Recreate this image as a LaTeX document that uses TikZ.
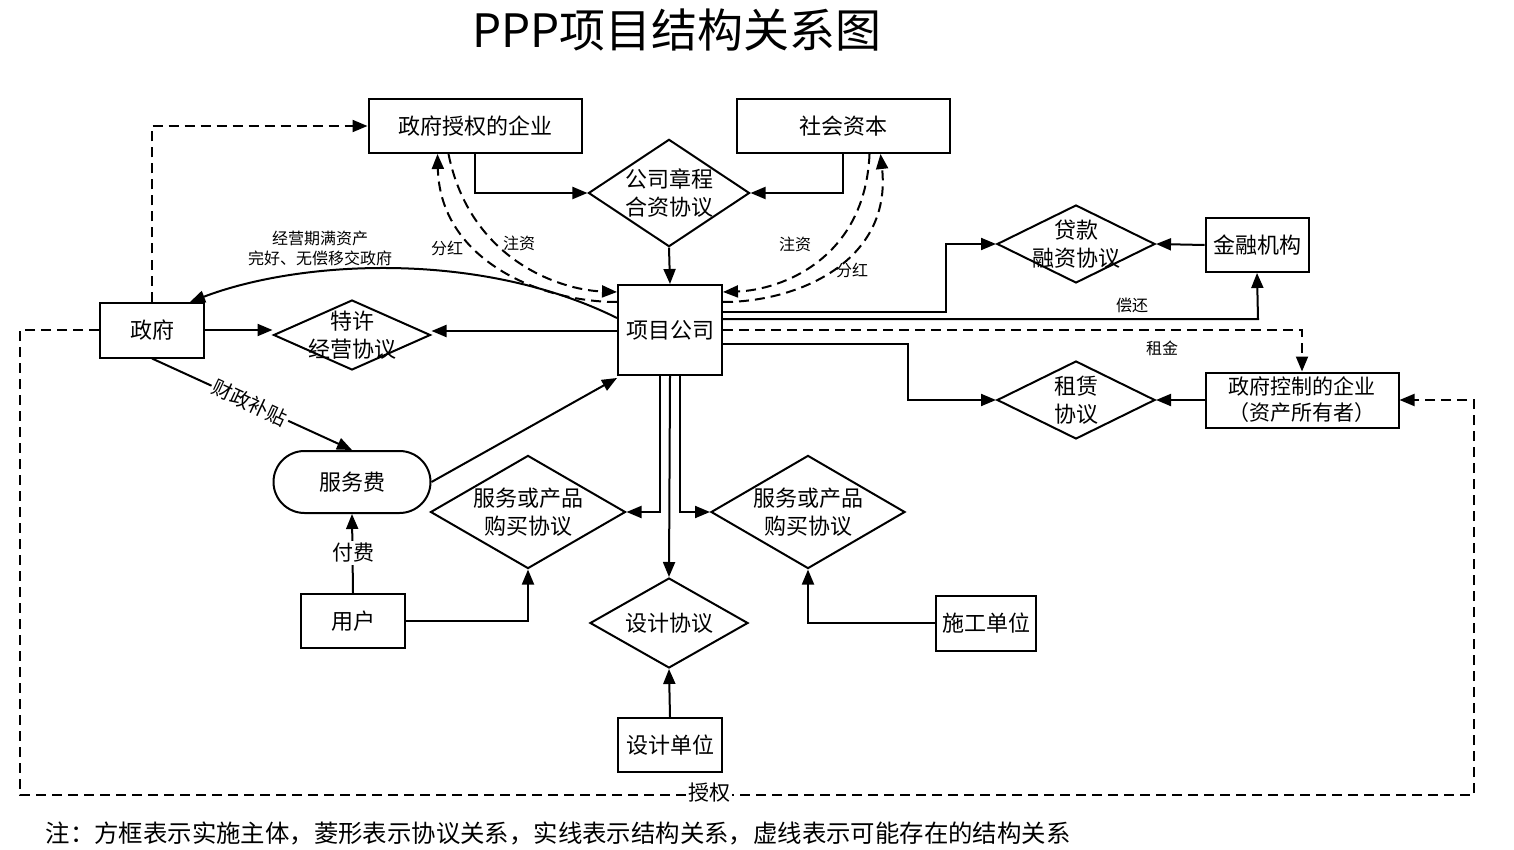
\documentclass[tikz,border=0pt]{standalone}
\usepackage{fontspec}
\setmainfont{Noto Sans CJK SC}
\usetikzlibrary{shapes.geometric,shapes.misc,arrows.meta}
\begin{document}
\begin{tikzpicture}[x=0.5pt,y=-0.5pt,
  every path/.style={line width=1pt},
  >={Triangle[length=7.5pt,width=6pt]},
  box/.style={draw,font=\fontsize{11}{13}\selectfont,inner sep=0pt,align=center},
  dia/.style={draw,diamond,inner sep=0pt,align=center,font=\fontsize{11}{14}\selectfont},
  lab/.style={font=\fontsize{8}{10}\selectfont,align=center,inner sep=1pt},
  dsh/.style={dashed,dash pattern=on 5pt off 3pt}]
\useasboundingbox (0,0) rectangle (1514,850);
\node[font=\fontsize{23}{25}\selectfont] (title) at (677,30) {PPP项目结构关系图};
\node[box,minimum width=106.5pt,minimum height=27pt] (gauth) at (475,126) {政府授权的企业};
\node[box,minimum width=106.5pt,minimum height=27pt] (soc) at (843,126) {社会资本};
\node[dia,minimum width=79pt,minimum height=53pt,aspect=1.5] (char) at (669,193) {公司章程\\合资协议};
\node[box,minimum width=52pt,minimum height=45pt] (proj) at (670,330) {项目公司};
\node[box,minimum width=52pt,minimum height=27.5pt] (gov) at (152,330) {政府};
\node[dia,minimum width=78.5pt,minimum height=35pt,aspect=2.2,inner sep=-5pt] (fran) at (352,335) {特许\\经营协议};
\node[dia,minimum width=79pt,minimum height=39pt,aspect=2,inner sep=-4pt] (loan) at (1076,244) {贷款\\融资协议};
\node[box,minimum width=51.5pt,minimum height=27pt] (fin) at (1257,245) {金融机构};
\node[dia,minimum width=79pt,minimum height=39pt,aspect=2] (lease) at (1076,400) {租赁\\协议};
\node[box,minimum width=96.5pt,minimum height=27.5pt,font=\fontsize{10.5}{13}\selectfont] (gctl) at (1302,400) {政府控制的企业\\（资产所有者）};
\node[draw,rounded rectangle,minimum width=78.5pt,minimum height=31pt,inner sep=0pt,font=\fontsize{11}{13}\selectfont] (fee) at (352,482) {服务费};
\node[dia,minimum width=97.5pt,minimum height=56pt,aspect=1.7] (buy1) at (528,512) {服务或产品\\购买协议};
\node[dia,minimum width=97pt,minimum height=56pt,aspect=1.7] (buy2) at (808,512) {服务或产品\\购买协议};
\node[dia,minimum width=79pt,minimum height=45pt,aspect=1.75] (des) at (669,623) {设计协议};
\node[box,minimum width=52pt,minimum height=27pt] (user) at (353,621) {用户};
\node[box,minimum width=50pt,minimum height=27.5pt] (con) at (986,623) {施工单位};
\node[box,minimum width=52pt,minimum height=27pt] (desu) at (670,745) {设计单位};
\node[anchor=west,font=\fontsize{12.2}{14}\selectfont] (note) at (38,833) {注：方框表示实施主体，菱形表示协议关系，实线表示结构关系，虚线表示可能存在的结构关系};
% top
\draw[->,dsh] (gov.north) |- (gauth.west);
\draw[->] (gauth.south) |- (char.west);
\draw[->] (soc.south) |- (char.east);
\draw[->] (char.south) -- (proj.north);
\draw[->,dsh] ([xshift=40.5pt]gauth.south west) .. controls (470,260) and (560,290) .. (proj.west|-0,292);
\draw[->,dsh] (proj.west|-0,302) .. controls (540,302) and (440,260) .. ([xshift=35pt]gauth.south west);
\draw[->,dsh] ([xshift=67pt]soc.south west) .. controls (865,260) and (780,290) .. (proj.east|-0,292);
\draw[->,dsh] (proj.east|-0,302) .. controls (800,302) and (892,260) .. ([xshift=72.5pt]soc.south west);
\node[lab] (l1) at (447,248) {分红};
\node[lab] (l2) at (519,243) {注资};
\node[lab] (l3) at (795,244) {注资};
\node[lab] (l4) at (852,270) {分红};
% left
\draw[->] (proj.west|-0,318) .. controls (480,250) and (300,260) .. (190,302);
\node[lab] (l5) at (320,248) {经营期满资产\\完好、无偿移交政府};
\draw[->] (proj.west|-0,331) -- (fran.east|-0,331);
\draw[->] (gov.east) -- (fran.west|-gov.east);
\draw[->] (gov.south) -- (fee.north);
\node[font=\fontsize{10}{12}\selectfont,rotate=-25,fill=white,inner sep=1pt] (l6) at (250,403) {财政补贴};
\draw[->] (fee.east) -- ([yshift=-1pt]proj.south west);
\draw[->] (user.north) -- (fee.south);
\node[fill=white,font=\fontsize{10.5}{12}\selectfont,inner sep=1pt] (l7) at (353,553) {付费};
\draw[->] (user.east) -| (buy1.south);
% bottom
\draw[->] (proj.south-|660,0) |- (buy1.east);
\draw[->] (proj.south-|680,0) |- (buy2.west);
\draw[->] (proj.south) -- (des.north);
\draw[->] (con.west) -| (buy2.south);
\draw[->] (desu.north) -- (des.south);
% right
\draw[->] (proj.east|-0,312) -- (946,312) |- (loan.west);
\draw[->] (fin.west) -- (loan.east);
\draw[->] (proj.east|-0,319) -- (1258,319) -- (fin.south);
\node[lab] (l8) at (1132,305) {偿还};
\draw[->,dsh] (proj.east|-0,330) -- (1302,330) -- (gctl.north);
\node[lab] (l9) at (1162,348) {租金};
\draw[->] (proj.east|-0,344) -- (908,344) |- (lease.west);
\draw[->] (gctl.west) -- (lease.east);
\coordinate (c1) at (20,795);
\coordinate (c2) at (1474,795);
\draw[->,dsh] (gov.west) -| (c1) -- (c2) |- (gctl.east);
\node[fill=white,font=\fontsize{10.5}{12}\selectfont,inner sep=1pt] (l10) at (709,793) {授权};
\end{tikzpicture}
\end{document}
